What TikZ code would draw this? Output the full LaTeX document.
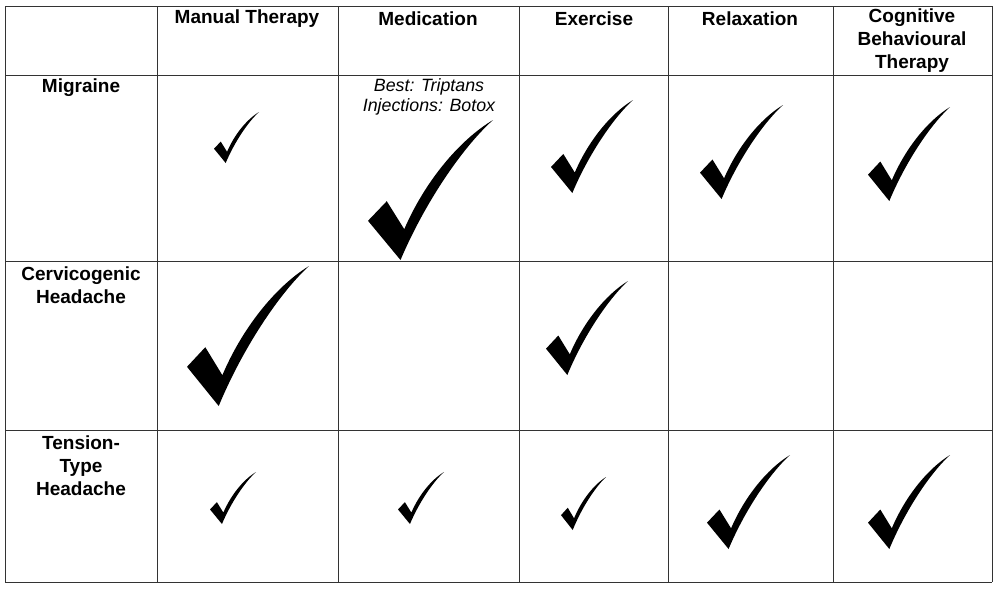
\documentclass[tikz,border=0pt]{standalone}
\usepackage{fontspec}
\setmainfont{Liberation Sans}
\begin{document}
\begin{tikzpicture}[x=1pt,y=-1pt,
  hd/.style={font=\fontsize{19}{23}\selectfont\bfseries,align=center,inner sep=0pt},
  it/.style={font=\fontsize{17.8}{20}\selectfont\itshape,align=center,inner sep=0pt},
  grid/.style={draw=black!80,line width=0.9pt},
  pics/chk/.style args={#1/#2}{code={
    \fill[black,xscale=#1,yscale=#2] (0,0.72) -- (0.15,0.58) -- (0.29,0.78)
      .. controls (0.45,0.45) and (0.72,0.15) .. (1,0)
      .. controls (0.75,0.2) and (0.45,0.6) .. (0.26,1) -- cycle;
  }}]
\useasboundingbox (0,0) rectangle (1000,589);
\fill[white] (0,0) rectangle (1000,589);
\foreach \x in {5,157,338,519,668,833,992} \draw[grid] (\x,6) -- (\x,582);
\foreach \y in {6,75,261,430,582} \draw[grid] (5,\y) -- (992,\y);
\node[hd] (h1) at (247,19) {Manual Therapy};
\node[hd] (h2) at (428,19) {Medication};
\node[hd] (h3) at (594,19) {Exercise};
\node[hd] (h4) at (750,19) {Relaxation};
\node[hd] (h5) at (912,41) {Cognitive\\Behavioural\\Therapy};
\node[hd] (r1) at (81,88) {Migraine};
\node[hd] (r2) at (81,285) {Cervicogenic\\Headache};
\node[hd] (r3) at (81,466) {Tension-\\Type\\Headache};
\node[it] (m) at (429,97) {Best: Triptans\\Injections: Botox};
% checks: (left,top) width/height
\pic at (214,112) {chk=45/51};
\pic at (368,120) {chk=125/140};
\pic at (551,100) {chk=82/93};
\pic at (700,105) {chk=83/94};
\pic at (868,107) {chk=82/94};
\pic at (187,266) {chk=122/140};
\pic at (546,281) {chk=82/94};
\pic at (210,472) {chk=46/52};
\pic at (398,472) {chk=46/52};
\pic at (561,477) {chk=45/53};
\pic at (707,455) {chk=83/94};
\pic at (868,455) {chk=82/94};
\end{tikzpicture}
\end{document}
